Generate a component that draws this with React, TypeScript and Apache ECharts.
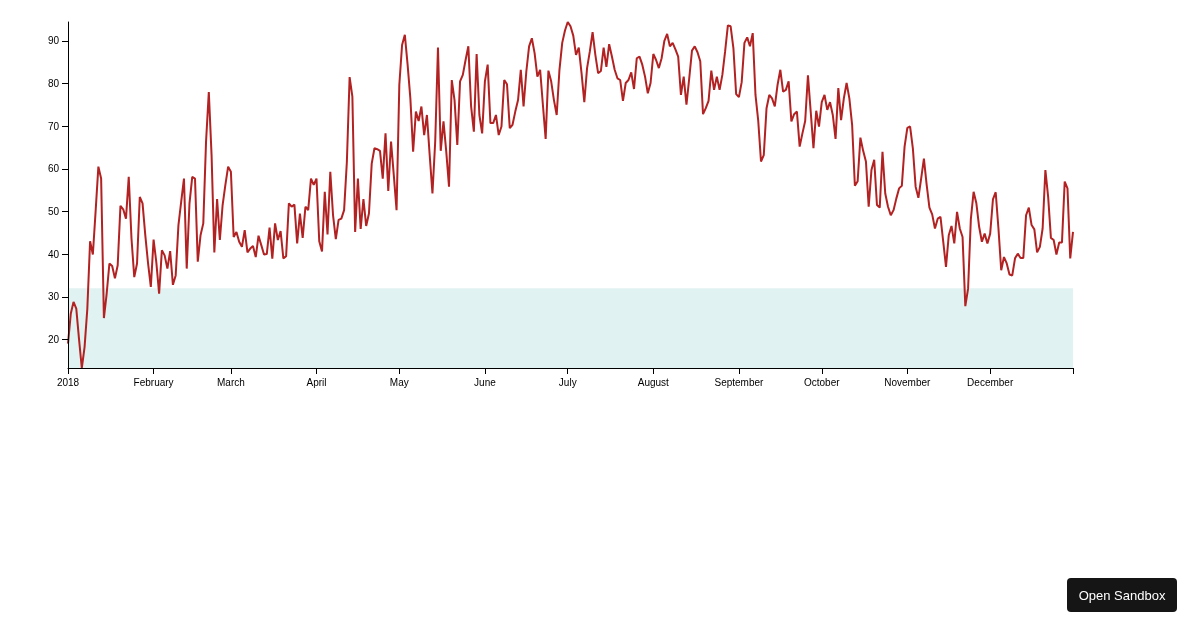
import React, { useEffect, useRef } from "react";
import * as echarts from "echarts";

const year = 2018;
const monthNames = [
  "January", "February", "March", "April", "May", "June",
  "July", "August", "September", "October", "November", "December",
];
const monthLengths = [31, 28, 31, 30, 31, 30, 31, 31, 30, 31, 30, 31];

// Daily temperatures (°F), one array per month
const jan = [19.0, 26, 28.8, 27.2, 20, 13.3, 18.2, 27.2, 43, 39.9, 50, 60.5, 57.7, 25, 30.7, 37.8, 37.2, 34.3, 37.4, 51.3, 50.5, 48.3, 58.1, 43.6, 34.6, 37.8, 53.4, 51.9, 44.4, 37.8, 32.3];
const feb = [43.4, 38, 30.7, 40.9, 39.7, 36.6, 40.7, 32.8, 35, 46.8, 52.3, 57.7, 36.6, 51.9, 58.1, 57.7, 38.2, 44.4, 47.2, 66.4, 78, 63.2, 40.4, 52.9, 43.3, 51.5, 56.2, 60.5];
const mar = [59.3, 44, 45.2, 42.9, 41.7, 45.6, 40.4, 41.3, 41.9, 39.3, 44.3, 42.1, 39.9, 40, 46.2, 38.9, 47.2, 43.3, 45.4, 39, 39.5, 51.9, 51.1, 51.6, 42.5, 49.5, 43.8, 51.1, 50.3, 57.7, 56.2];
const apr = [57.7, 43, 40.6, 54.6, 44.6, 59.3, 49.1, 43.5, 48, 48.3, 50.3, 61.6, 81.5, 76.9, 45.2, 57.7, 45.9, 52.9, 46.6, 49.5, 61.2, 64.8, 64.6, 64.2, 57.7, 68.3, 54.8, 66.4, 58.5, 50.3];
const may = [79.7, 89, 91.4, 84.4, 76.5, 64, 73.4, 71.2, 74.6, 67.9, 72.6, 63.2, 54.2, 66.4, 88.4, 64.2, 71.1, 64, 55.8, 80.8, 76.1, 65.6, 80.5, 82, 85.5, 88.7, 74.6, 68.7, 86.9, 72.6, 68.3];
const jun = [80.5, 84.4, 70.7, 70.7, 72.6, 67.9, 69.9, 80.8, 79.8, 69.5, 70.3, 73.4, 76.1, 83.2, 74.6, 82.8, 88.7, 90.6, 87.1, 81.6, 83.2, 75, 67, 83, 80.5, 76.1, 72.6, 83.2, 89.5, 92.4];
const jul = [94.4, 93.4, 91.2, 86.7, 88.4, 82.4, 75.6, 83.6, 87.5, 92, 86.7, 82.4, 82.9, 88.4, 83.9, 89.2, 86.3, 83.2, 81.2, 80.8, 75.9, 80.1, 80.8, 82.6, 78.7, 85.9, 86.3, 84.4, 81.6, 77.7, 80.1];
const aug = [86.9, 85.5, 83.6, 85.9, 90, 91.6, 88.7, 89.5, 88, 86.3, 77.3, 81.6, 75, 81.2, 87.7, 88.7, 87.3, 85.2, 72.8, 74.2, 75.9, 83, 78.5, 81.6, 78.5, 82, 87.5, 93.6, 93.4, 88.3, 77.5];
const sep = [76.8, 80.3, 89.5, 90.8, 88.7, 91.8, 77.3, 71.2, 61.7, 63.2, 74.2, 77.3, 76.5, 74.6, 79.7, 83.2, 78.1, 78.5, 80.5, 71.1, 72.8, 73.4, 65.2, 68.3, 71.2, 81.9, 73.4, 64.8, 73.6, 69.9];
const oct = [75.6, 77.3, 73.8, 75.6, 72.6, 67, 78.9, 71.4, 76.5, 80.1, 76.5, 70.3, 56, 57.1, 67.3, 64.2, 61.7, 51.1, 59.7, 62.1, 51.5, 50.9, 64, 54.2, 51.1, 49.1, 50.3, 53, 55.4, 56, 65.2];
const nov = [69.6, 69.9, 64.8, 55.8, 53.2, 57.7, 62.4, 56.2, 50.9, 49.3, 46, 48.3, 48.7, 42.9, 37, 44.4, 46.6, 42.5, 49.9, 46, 44, 27.8, 31.9, 48.2, 54.6, 51.9, 46.4, 42.9, 44.8, 42.5];
const dec = [44.8, 52.8, 54.5, 46, 36.2, 39.3, 37.8, 35.2, 35, 39, 40.1, 39.1, 39.1, 49.1, 50.9, 46.8, 45.8, 40.4, 41.7, 46, 59.7, 53.4, 43.8, 43.3, 39.9, 42.7, 42.7, 57, 55.4, 39, 45.2];

const freezing = 32;

const temps = [...jan, ...feb, ...mar, ...apr, ...may, ...jun, ...jul, ...aug, ...sep, ...oct, ...nov, ...dec];

const dates: string[] = [];
monthLengths.forEach((len, m) => {
  for (let d = 1; d <= len; d++) {
    dates.push(`${year}-${String(m + 1).padStart(2, "0")}-${String(d).padStart(2, "0")}`);
  }
});

export default function App() {
  const ref = useRef<HTMLDivElement>(null);
  useEffect(() => {
    if (!ref.current) return;
    const chart = echarts.init(ref.current, null, { renderer: "svg" });
    const minT = Math.min(...temps);
    const lastIdx = dates.length - 1;
    const labelFmt = (v: string) => {
      const m = parseInt(v.slice(5, 7), 10) - 1;
      return m === 0 ? String(year) : monthNames[m];
    };
    chart.setOption({
      animation: false,
      grid: { left: 68, right: 127, top: 22, bottom: 262, containLabel: false },
      xAxis: {
        type: "category",
        z: 5,
        data: dates,
        boundaryGap: false,
        axisLine: { show: true, lineStyle: { color: "#000", width: 1 } },
        axisTick: {
          show: true,
          length: 6,
          lineStyle: { color: "#000" },
          interval: (i: number, v: string) => v.endsWith("-01") || i === lastIdx,
        },
        axisLabel: {
          show: true,
          interval: (_i: number, v: string) => v.endsWith("-01"),
          formatter: labelFmt,
          fontSize: 10,
          fontFamily: "sans-serif",
          color: "#000",
          margin: 9,
        },
        splitLine: { show: false },
      },
      yAxis: {
        type: "value",
        z: 5,
        min: "dataMin",
        max: "dataMax",
        splitNumber: 8,
        axisLine: { show: true, lineStyle: { color: "#000", width: 1 } },
        axisTick: { show: true, length: 6, lineStyle: { color: "#000" } },
        axisLabel: {
          show: true,
          showMinLabel: false,
          showMaxLabel: false,
          fontSize: 10,
          fontFamily: "sans-serif",
          color: "#000",
          margin: 9,
        },
        splitLine: { show: false },
      },
      series: [
        {
          type: "line",
          data: temps,
          symbol: "none",
          lineStyle: { color: "#b22222", width: 2 },
          itemStyle: { color: "#b22222" },
          markArea: {
            silent: true,
            itemStyle: { color: "#e0f2f1" },
            data: [[{ yAxis: minT }, { yAxis: freezing }]],
          },
        },
      ],
      graphic: [
        {
          type: "group",
          children: [
            {
              type: "rect",
              shape: { x: 1067, y: 578, width: 110, height: 34, r: 4 },
              style: { fill: "#151515" },
            },
            {
              type: "text",
              x: 1122,
              y: 595,
              style: {
                text: "Open Sandbox",
                fill: "#fff",
                font: "13px sans-serif",
                textAlign: "center",
                textVerticalAlign: "middle",
              },
            },
          ],
        },
      ],
    });
    return () => chart.dispose();
  }, []);
  return (
    <div
      ref={ref}
      style={{ position: "fixed", left: 0, top: 0, width: 1200, height: 630 }}
    />
  );
}
